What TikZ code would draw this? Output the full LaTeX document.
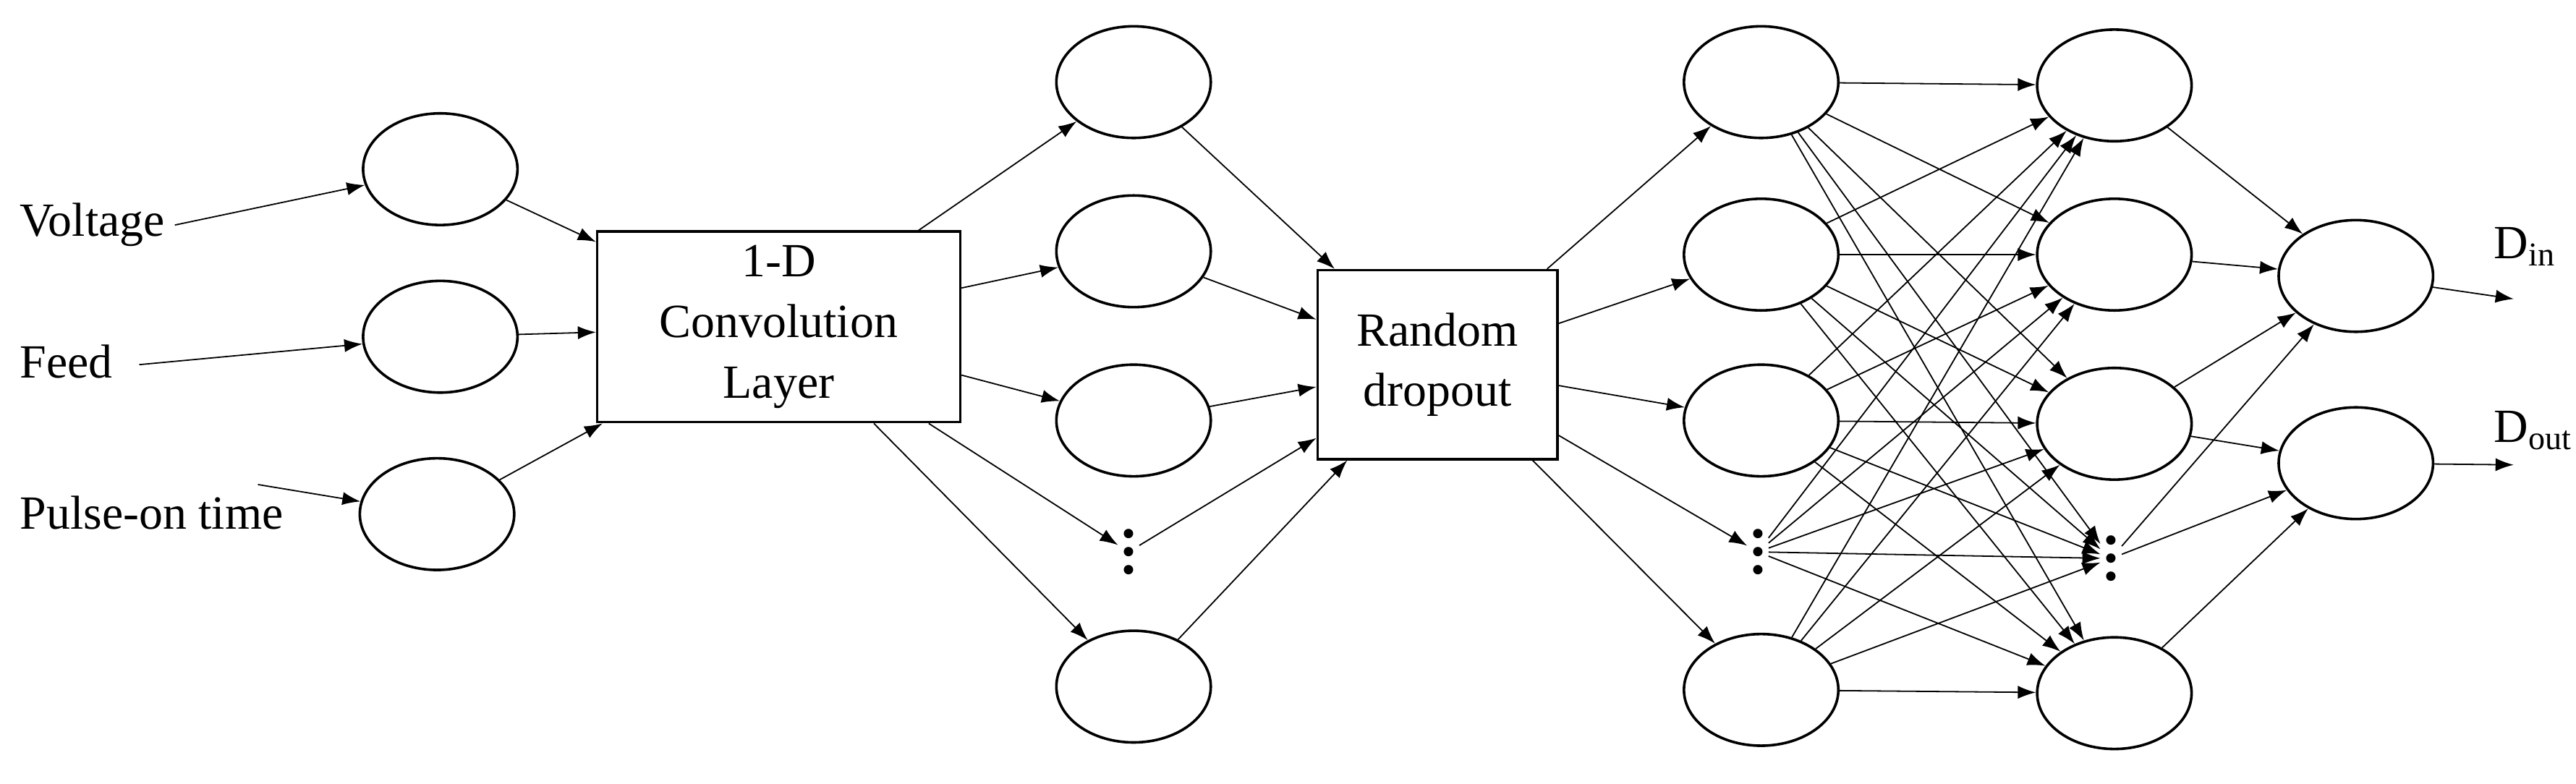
\documentclass[tikz,border=0pt]{standalone}
\usepackage{fontspec}
\setmainfont{Liberation Serif}
\usetikzlibrary{arrows.meta,shapes.geometric}
\tikzset{
	neuron/.style={ellipse,draw,line width=0.9pt,minimum width=1.88cm,minimum height=1.36cm},
	layerbox/.style={rectangle,draw,line width=0.9pt,align=center},
	dotsnode/.style={inner sep=1pt,font=\fontsize{20}{8}\selectfont},
	link/.style={-{Latex[length=2.2mm,width=1.6mm]},line width=0.45pt}
}
\newcommand{\coldots}{\shortstack{\textbf{.}\\\textbf{.}\\\textbf{.}}}
\begin{document}
\begin{tikzpicture}[x=0.02cm,y=-0.02cm,font=\fontsize{16.5}{21}\selectfont]
	\useasboundingbox (0,0) rectangle (1568,477);
	
	% inputs
	\node[anchor=west] (volt) at (6,137) {Voltage};
	\node[anchor=west] (feed) at (6,220) {Feed};
	\node[anchor=west] (pulse) at (6,312) {Pulse-on time};
	\coordinate (pulsein) at (157,295);
	\node[neuron] (in1) at (268,103) {};
	\node[neuron] (in2) at (268,205) {};
	\node[neuron] (in3) at (266,313) {};
	
	\draw[link] (volt.east) -- (in1);
	\draw[link] (feed.east) ++(10,2) -- (in2);
	\draw[link] (pulsein) -- (in3);
	
	% convolution
	\node[layerbox,minimum width=4.42cm,minimum height=2.32cm] (conv) at (474,199)
		{1-D\\Convolution\\Layer};
	\foreach \i in {1,2,3}
		\draw[link] (in\i) -- (conv);
	
	% first hidden layer
	\node[neuron] (h1) at (690,50) {};
	\node[neuron] (h2) at (690,153) {};
	\node[neuron] (h3) at (690,256) {};
	\node[dotsnode] (h4) at (687,336) {\coldots};
	\node[neuron] (h5) at (690,418) {};
	\foreach \i in {1,...,5}
		\draw[link] (conv) -- (h\i);
	
	% dropout
	\node[layerbox,minimum width=2.92cm,minimum height=2.3cm] (drop) at (875,222)
		{Random\\dropout};
	\foreach \i in {1,...,5}
		\draw[link] (h\i) -- (drop);
	
	% dense layers
	\node[neuron] (a1) at (1072,50) {};
	\node[neuron] (a2) at (1072,155) {};
	\node[neuron] (a3) at (1072,256) {};
	\node[dotsnode] (a4) at (1070,336) {\coldots};
	\node[neuron] (a5) at (1072,420) {};
	\node[neuron] (b1) at (1287,52) {};
	\node[neuron] (b2) at (1287,155) {};
	\node[neuron] (b3) at (1287,258) {};
	\node[dotsnode] (b4) at (1285,340) {\coldots};
	\node[neuron] (b5) at (1287,422) {};
	\foreach \i in {1,...,5}
		\draw[link] (drop) -- (a\i);
	\foreach \i in {1,...,5}
		\foreach \j in {1,...,5}
			\draw[link] (a\i) -- (b\j);
	
	% outputs
	\node[neuron] (o1) at (1434,168) {};
	\node[neuron] (o2) at (1434,282) {};
	\foreach \i in {1,...,4}
		\draw[link] (b\i) -- (o1);
	\foreach \i in {3,4,5}
		\draw[link] (b\i) -- (o2);
	\coordinate (e1) at (1530,182);
	\coordinate (e2) at (1530,283);
	\draw[link] (o1) -- (e1);
	\draw[link] (o2) -- (e2);
	\node[anchor=west] (din) at (1512,150) {D\textsubscript{in}};
	\node[anchor=west] (dout) at (1512,262) {D\textsubscript{out}};
\end{tikzpicture}
\end{document}
